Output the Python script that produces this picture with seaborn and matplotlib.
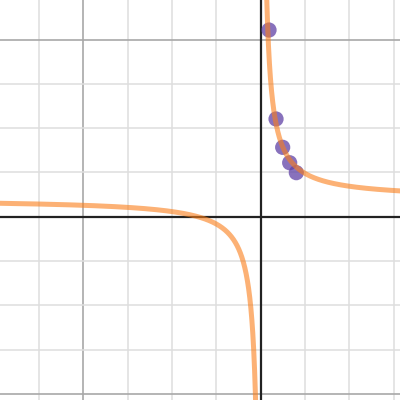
import numpy as np
import pandas as pd
import matplotlib
matplotlib.use("Agg")
import matplotlib.pyplot as plt
import seaborn as sns
from matplotlib.ticker import MultipleLocator

# Data points
point_x = [0.094, 0.173, 0.248, 0.327, 0.402]
point_y = [2.107, 1.103, 0.783, 0.609, 0.497]

# Fitted curve y = a + b / (x - c)
curve_a = 0.200
curve_b = 0.143
curve_c = 0.005

x_range = (-2.942, 1.572)
y_range = (-2.069, 2.446)

sns.set_theme(style="white")
fig = plt.figure(figsize=(4, 4), dpi=100)
ax = fig.add_axes([0, 0, 1, 1])

ax.set_xlim(*x_range)
ax.set_ylim(*y_range)
ax.xaxis.set_major_locator(MultipleLocator(2))
ax.xaxis.set_minor_locator(MultipleLocator(0.5))
ax.yaxis.set_major_locator(MultipleLocator(2))
ax.yaxis.set_minor_locator(MultipleLocator(0.5))
ax.grid(which="minor", color="#dedede", linewidth=1.1, zorder=0)
ax.grid(which="major", color="#a8a8a8", linewidth=1.2, zorder=0)
ax.tick_params(which="both", length=0, labelbottom=False, labelleft=False)
for s in ax.spines.values():
    s.set_visible(False)
ax.axhline(0, color="#222222", linewidth=1.6, zorder=1)
ax.axvline(0, color="#222222", linewidth=1.6, zorder=1)

pts = pd.DataFrame({"x": point_x, "y": point_y})
sns.scatterplot(data=pts, x="x", y="y", ax=ax, s=120, color="#6042a6",
                alpha=0.75, edgecolor="none", zorder=2, legend=False)

xl = np.linspace(x_range[0], curve_c - 1e-4, 2000)
xr = np.linspace(curve_c + 1e-4, x_range[1], 2000)
left = pd.DataFrame({"x": xl, "y": curve_a + curve_b / (xl - curve_c)})
right = pd.DataFrame({"x": xr, "y": curve_a + curve_b / (xr - curve_c)})
for df in (left, right):
    sns.lineplot(data=df, x="x", y="y", ax=ax, color="#fa7e19", alpha=0.6,
                 linewidth=3.6, sort=False, zorder=3, estimator=None)

ax.set_xlim(*x_range)
ax.set_ylim(*y_range)
ax.set_xlabel("")
ax.set_ylabel("")
fig.savefig("out.png", dpi=100)
